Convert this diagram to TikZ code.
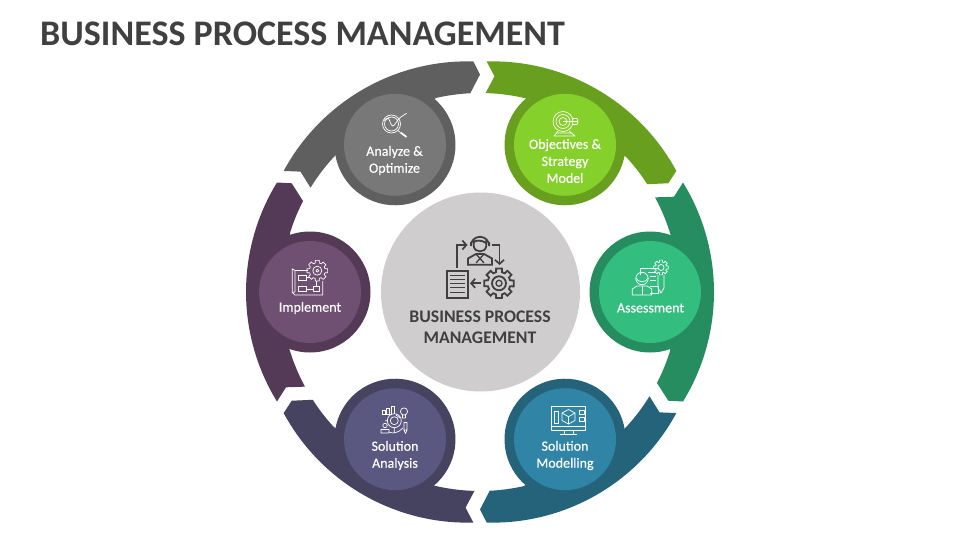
\documentclass[tikz,border=0pt]{standalone}
\usepackage{fontspec}
\setmainfont{Carlito}
\newfontfamily\labelfont[FakeBold=0.35]{Carlito}
\usetikzlibrary{arrows.meta}
\definecolor{titlecol}{HTML}{404040}
\definecolor{hubcol}{HTML}{CFCDCE}
\definecolor{bandA}{HTML}{268D60}\definecolor{coreA}{HTML}{33BE80}
\definecolor{bandB}{HTML}{689F1E}\definecolor{coreB}{HTML}{86D02B}
\definecolor{bandC}{HTML}{5F5F5F}\definecolor{coreC}{HTML}{787878}
\definecolor{bandD}{HTML}{553A57}\definecolor{coreD}{HTML}{6F4F72}
\definecolor{bandE}{HTML}{45435F}\definecolor{coreE}{HTML}{5A5780}
\definecolor{bandF}{HTML}{25637B}\definecolor{coreF}{HTML}{3084A6}
\newcommand{\cogat}[5]{% x,y,rout,rin,style
  \draw[#5] ([shift={(#1,#2)}]-12:#3)
  \foreach \k in {0,...,7}{ -- ([shift={(#1,#2)}]{\k*45-11}:#3) -- ([shift={(#1,#2)}]{\k*45+11}:#3) -- ([shift={(#1,#2)}]{\k*45+15}:#4) -- ([shift={(#1,#2)}]{\k*45+30}:#4)} -- cycle;}
\tikzset{
  label/.style={text=white,align=center,font=\labelfont\fontsize{14}{17}\selectfont,inner sep=0pt},
  hublabel/.style={text=titlecol,align=center,font=\bfseries\fontsize{17.7}{21}\selectfont,inner sep=0pt},
  icon/.style={draw=white,line width=0.7pt,line join=round,fill=none},
  bigicon/.style={draw=titlecol,line width=1.8pt,line join=miter,fill=none},
  bigarrow/.style={bigicon,-{Straight Barb[length=4pt,width=9pt,line width=1.7pt]}}
}
\begin{document}
\begin{tikzpicture}[x=1pt,y=1pt]
\useasboundingbox (0,0) rectangle (960,-540);
\fill[white] (0,0) rectangle (960,-540);
\node[anchor=west,inner sep=0pt,text=titlecol,font=\bfseries\fontsize{36}{42}\selectfont] (title) at (40,-34) {BUSINESS PROCESS MANAGEMENT};
% ring segments
\foreach \ang/\band/\core in {0/bandA/coreA,60/bandB/coreB,120/bandC/coreC,180/bandD/coreD,240/bandE/coreE,300/bandF/coreF}{
  \begin{scope}[shift={(480,-292)},rotate=\ang]
    \fill[\band] (203,109.5) .. controls (244.3,42.4) and (244.3,-42.4) .. (203,-109.5)
       -- (188.3,-108.7) -- (-27.2:199) arc[start angle=-27.2,end angle=-17.3,radius=199pt]
       -- (16.6:199) arc[start angle=16.6,end angle=28.4,radius=199pt]
       -- (194,95.3) -- cycle;
    \fill[\band] (170,0) circle[radius=60.5pt];
  \end{scope}
  \fill[\core] ({480+170*cos(\ang)},{-292+170*sin(\ang)}) circle[radius=51pt];
}
% hub
\node[circle,fill=hubcol,minimum size=199pt,inner sep=0pt] (hub) at (480.5,-292) {};
\node[hublabel] (hubtext) at (480,-327) {BUSINESS PROCESS\\MANAGEMENT};
% hub icon: person
\draw[bigicon] (470.8,-246) arc[start angle=180,end angle=0,radius=9.2pt] -- (489.2,-242);
\draw[bigicon] (470.8,-246) -- (470.8,-242);
\draw[bigicon] (473.8,-242) .. controls (476,-240) and (482,-240) .. (486.2,-243);
\draw[bigicon] (473.8,-240) -- (473.8,-246.5) .. controls (475,-253) and (485,-253) .. (486.2,-246.5) -- (486.2,-240);
\draw[bigicon] (468,-264.7) -- (468,-258.5) -- (476,-254) -- (484,-254) -- (492,-258.5) -- (492,-264.7) -- cycle;
\draw[bigicon,line width=1.3pt] (476,-254) -- (484,-263) (484,-254) -- (476,-263);
\draw[bigarrow] (456.7,-267.5) -- (456.7,-245) -- (467.5,-245);
\draw[bigarrow] (491.5,-245) -- (499.5,-245) -- (499.5,-265);
\draw[bigicon] (446.8,-270.8) rectangle (467.6,-298.3);
\draw[bigicon,line width=1.3pt] (450,-275.5) -- (464.5,-275.5) (450,-279.5) -- (464.5,-279.5) (450,-283.5) -- (464.5,-283.5) (450,-287.5) -- (464.5,-287.5) (450,-292.5) -- (464.5,-292.5);
\draw[bigarrow] (481,-283.3) -- (470,-283.3);
\cogat{499}{-283.3}{15}{11.5}{bigicon}
\draw[bigicon] (499,-283.3) circle[radius=7pt];
\draw[bigicon,line width=1.3pt] (499,-283.3) circle[radius=3pt];
% labels
\node[label] (n1) at (394.5,-160.5) {Analyze \&\\Optimize};
\node[label] (n2) at (565,-161) {Objectives \&\\Strategy\\Model};
\node[label] (n3) at (650.5,-308) {Assessment};
\node[label] (n4) at (565,-455.5) {Solution\\Modelling};
\node[label] (n5) at (395,-455.5) {Solution\\Analysis};
\node[label] (n6) at (310,-308) {Implement};
% analyze icon
\draw[icon] (391.5,-124) circle[radius=9pt] (391.5,-124) circle[radius=7pt];
\draw[icon] (398,-130.5) -- (400,-132.5);
\draw[icon,line width=1.7pt] (400.5,-132.5) -- (406.5,-137);
\draw[icon] plot[smooth,tension=0.6] coordinates {(384,-120.5) (388.3,-118.5) (392.7,-126) (399.3,-118.3) (406.7,-113.3)};
% objectives icon
\draw[icon] (563,-121.5) circle[radius=10pt] (563,-121.5) circle[radius=7pt] (563,-121.5) circle[radius=4pt];
\draw[icon] (563,-121.5) -- (577,-121.5) (572,-118.5) -- (577,-118.5) -- (578,-121.5) -- (577,-124.5) -- (572,-124.5);
\draw[icon] (558,-131) -- (554,-136) -- (575,-136) -- (569,-131) (556,-133) -- (572,-133);
% assessment icon
\draw[icon] (640.5,-275) -- (640.5,-268) -- (658,-268) (650,-286) -- (658,-286) -- (658,-293) -- (650,-293) (648,-272) -- (656,-272) (650,-276) -- (656,-276) (650,-280) -- (656,-280);
\cogat{661}{-267.5}{7.5}{5.5}{icon}
\draw[icon] (661,-267.5) circle[radius=3pt];
\draw[icon] (658,-275) -- (658,-288) -- (661,-293) -- (664,-288) -- (664,-275);
\draw[icon] (642,-278.5) circle[radius=6.2pt];
\draw[icon] (636,-278) .. controls (638,-283) and (646,-283) .. (648,-278);
\draw[icon] (632.3,-295) -- (632.3,-289) -- (637,-286) -- (647,-286) -- (651.7,-289) -- (651.7,-295) -- cycle;
\draw[icon] (642,-286) -- (642,-295);
% modelling icon
\draw[icon] (551.8,-406.7) rectangle (585.7,-430.3) (551.8,-426.5) -- (585.7,-426.5);
\draw[icon] (564,-430.3) -- (564,-434) (573,-430.3) -- (573,-434) (560,-434) -- (577,-434);
\draw[icon] (554.5,-411) rectangle (558.5,-423);
\draw[icon] (579.5,-410) rectangle (584,-414) (579.5,-417.5) rectangle (584,-421.5);
\draw[icon] (568.5,-409.5) -- (575,-413) -- (575,-420.5) -- (568.5,-424) -- (562,-420.5) -- (562,-413) -- cycle;
\draw[icon] (562,-413) -- (568.5,-416.7) -- (575,-413) (568.5,-416.7) -- (568.5,-424);
% solution analysis icon
\draw[icon] (394.3,-420.7) circle[radius=7pt] (394.3,-420.7) circle[radius=4pt];
\draw[icon] (382,-414) rectangle (385,-410) (386.5,-414) rectangle (389.5,-408) (391,-414) -- (391,-406.5) -- (394,-406.5) -- (394,-414);
\draw[icon] (394,-409) -- (394,-414) (382,-414) -- (392,-414);
\draw[icon] (404,-411.5) circle[radius=3.6pt] (402.5,-415) -- (402.5,-418) -- (405.5,-418) -- (405.5,-415);
\draw[icon] (400,-418) -- (396,-415) (385,-420.7) -- (387.3,-420.7) (394.3,-427.7) -- (394.3,-433);
\draw[icon] (385,-425.5) circle[radius=2.2pt] (381,-433) -- (381,-429.5) -- (389,-429.5) -- (389,-433) -- cycle;
\draw[icon] (404,-422.5) rectangle (407,-430) (404,-430) -- (405.5,-433.5) -- (407,-430);
\draw[icon] (389,-432) .. controls (393,-434) and (398,-433) .. (403,-428);
% implement icon
\draw[icon] (295,-270.5) -- (292.3,-268.8) -- (292.3,-292.5) -- (295,-295) -- (322.7,-295) -- (322.7,-281);
\draw[icon] (295,-270.5) -- (295,-292) -- (292.3,-292.5) (295,-270.5) -- (308,-270.5);
\draw[icon] (298.5,-275) rectangle (306.5,-280) (298.5,-286.5) rectangle (306,-291.5) (313,-286.5) rectangle (319.5,-291.5);
\draw[icon] (306,-289) -- (313,-289) (306.5,-277.5) -- (310,-277.5) (316,-286.5) -- (316,-281);
\cogat{317.3}{-270.7}{10.5}{8}{icon}
\draw[icon] (317.3,-270.7) circle[radius=4.5pt] (317.3,-270.7) circle[radius=1.5pt];
\end{tikzpicture}
\end{document}
